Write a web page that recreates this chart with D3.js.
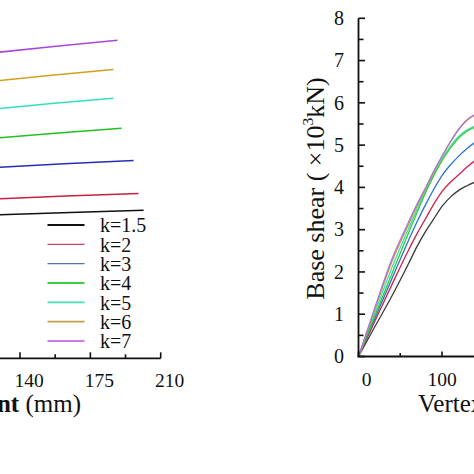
<!DOCTYPE html>
<html><head><meta charset="utf-8">
<script src="https://cdn.jsdelivr.net/npm/d3@7/dist/d3.min.js"></script>
<style>html,body{margin:0;padding:0;background:#fff;}svg{display:block;}text{font-family:"Liberation Serif","Times New Roman",serif;fill:#111;}</style>
</head><body>
<svg id="c" width="474" height="474"></svg>
<script>
// ---------- data ----------
const kLabels = ["k=1.5","k=2","k=3","k=4","k=5","k=6","k=7"];
// left panel (visible part): displacement (mm) and base shear (x10^3 kN)
const leftX = [
  [128, 165, 201.5],
  [128, 163, 199],
  [128, 162, 196.5],
  [128, 159, 190.5],
  [128, 157, 186.5],
  [128, 157, 186.5],
  [128, 158, 188.5]
];
const leftY = [
  [3.39, 3.45, 3.50],
  [3.77, 3.84, 3.90],
  [4.51, 4.60, 4.68],
  [5.21, 5.33, 5.44],
  [5.90, 6.03, 6.15],
  [6.56, 6.70, 6.83],
  [7.23, 7.38, 7.52]
];
const leftTicks = [140, 157.5, 175, 192.5, 210];
const leftTickLabels = [140, 175, 210];
// right panel: vertex displacement (mm) vs base shear (x10^3 kN)
const rightX = [0, 20, 40, 60, 70, 80, 90, 100, 110, 120, 130, 140, 150, 160];
const rightY = [
  [0, 0.72, 1.43, 2.20, 2.60, 2.95, 3.25, 3.55, 3.77, 3.93, 4.04, 4.13, 4.20, 4.25],
  [0, 0.85, 1.70, 2.52, 2.90, 3.25, 3.60, 3.90, 4.12, 4.30, 4.48, 4.64, 4.76, 4.85],
  [0, 0.92, 1.84, 2.75, 3.18, 3.58, 3.95, 4.28, 4.53, 4.74, 4.92, 5.07, 5.20, 5.30],
  [0, 0.98, 1.96, 2.93, 3.40, 3.86, 4.27, 4.63, 4.93, 5.17, 5.33, 5.43, 5.51, 5.57],
  [0, 1.06, 2.10, 3.03, 3.48, 3.91, 4.31, 4.67, 4.97, 5.21, 5.36, 5.45, 5.52, 5.58],
  [0, 1.14, 2.24, 3.13, 3.56, 3.96, 4.36, 4.73, 5.07, 5.37, 5.59, 5.72, 5.81, 5.87],
  [0, 1.18, 2.30, 3.18, 3.60, 3.98, 4.38, 4.74, 5.08, 5.38, 5.60, 5.73, 5.82, 5.88]
];
const rightYTicks = [0, 1, 2, 3, 4, 5, 6, 7, 8];
const rightXTicks = [0, 50, 100, 150];
const rightXTickLabels = [0, 100];

// ---------- styles ----------
const lineColors  = ["#111111", "#c8203f", "#2630b0", "#22c022", "#33dfc0", "#d0a020", "#a848d8"];
const rightColors = ["#3a3a3a", "#d0204a", "#2a72d0", "#33cc33", "#40dcc0", "#c8a020", "#b070e0"];
const legColors   = ["#111111", "#d04060", "#5a6fb0", "#40cc40", "#44e0b8", "#c0a040", "#c050e0"];
const legWidths   = [2.2, 1.1, 1.1, 2.2, 1.6, 1.6, 1.6];

const svg = d3.select("#c");

// ---------- left panel ----------
const lx = d3.scaleLinear().domain([140, 210]).range([20, 160.7]);
const ly = d3.scaleLinear().domain([0, 8]).range([358.3, 20]);
const lg = svg.append("g");
const lineL = d3.line().x(d => lx(d[0])).y(d => ly(d[1]));
kLabels.forEach((k, i) => {
  const pts = leftX[i].map((x, j) => [x, leftY[i][j]]);
  lg.append("path").attr("d", lineL(pts)).attr("fill", "none")
    .attr("stroke", lineColors[i]).attr("stroke-width", 1.5);
});
// x axis
lg.append("line").attr("x1", -5).attr("x2", lx(210)).attr("y1", ly(0)).attr("y2", ly(0))
  .attr("stroke", "#111").attr("stroke-width", 1.8);
leftTicks.forEach(t => {
  const major = leftTickLabels.includes(t);
  lg.append("line").attr("x1", lx(t)).attr("x2", lx(t))
    .attr("y1", ly(0)).attr("y2", ly(0) - (major ? 6 : 4))
    .attr("stroke", "#111").attr("stroke-width", 1.6);
});
leftTickLabels.forEach(t => {
  lg.append("text").attr("x", lx(t) + 9).attr("y", 386.5).attr("text-anchor", "middle")
    .attr("font-size", 19.5).text(t);
});
const lxl = lg.append("text").attr("x", 81).attr("y", 412).attr("text-anchor", "end").attr("font-size", 25);
lxl.append("tspan").attr("font-weight", "bold").text("Vertex displacement");
lxl.append("tspan").text(" (mm)");
// legend
const legY = d3.scaleLinear().domain([0, 6]).range([225, 341]);
kLabels.forEach((k, i) => {
  lg.append("line").attr("x1", 47.5).attr("x2", 84.5).attr("y1", legY(i)).attr("y2", legY(i))
    .attr("stroke", legColors[i]).attr("stroke-width", legWidths[i]);
  lg.append("text").attr("x", 100).attr("y", legY(i) + 7.3).attr("font-size", 20).text(k);
});

// ---------- right panel ----------
const rx = d3.scaleLinear().domain([0, 100]).range([358.5, 442]);
const ry = d3.scaleLinear().domain([0, 8]).range([356.5, 18.3]);
const rg = svg.append("g");
const lineR = d3.line().x(d => rx(d[0])).y(d => ry(d[1])).curve(d3.curveMonotoneX);
const order = [0, 1, 2, 4, 3, 5, 6];
order.forEach(i => {
  const pts = rightX.map((x, j) => [x, rightY[i][j]]);
  rg.append("path").attr("d", lineR(pts)).attr("fill", "none")
    .attr("stroke", rightColors[i]).attr("stroke-width", 1.3);
});
// y axis
rg.append("line").attr("x1", rx(0)).attr("x2", rx(0)).attr("y1", ry(0)).attr("y2", ry(8))
  .attr("stroke", "#111").attr("stroke-width", 1.8);
d3.range(0, 8.01, 0.5).forEach(t => {
  const major = Number.isInteger(t);
  rg.append("line").attr("x1", rx(0)).attr("x2", rx(0) + (major ? 6.5 : 5))
    .attr("y1", ry(t)).attr("y2", ry(t)).attr("stroke", "#111").attr("stroke-width", 1.6);
});
rightYTicks.forEach(t => {
  rg.append("text").attr("x", 344).attr("y", ry(t)).attr("dy", "0.34em")
    .attr("text-anchor", "end").attr("font-size", 20).text(t);
});
// x axis
rg.append("line").attr("x1", rx(0) - 1).attr("x2", 480).attr("y1", ry(0)).attr("y2", ry(0))
  .attr("stroke", "#111").attr("stroke-width", 1.8);
rightXTicks.forEach(t => {
  const major = rightXTickLabels.includes(t);
  rg.append("line").attr("x1", rx(t)).attr("x2", rx(t))
    .attr("y1", ry(0)).attr("y2", ry(0) - (major ? 5 : 3.5))
    .attr("stroke", "#111").attr("stroke-width", 1.6);
});
rightXTickLabels.forEach(t => {
  rg.append("text").attr("x", rx(t) + (t === 0 ? 8 : 0)).attr("y", 385.5)
    .attr("text-anchor", "middle").attr("font-size", 19.5).text(t);
});
rg.append("text").attr("x", 418).attr("y", 412).attr("font-size", 25).text("Vertex displacement (mm)");
// y label
const ylab = rg.append("text").attr("transform", "translate(323.5,188.5) rotate(-90)")
  .attr("text-anchor", "middle").attr("font-size", 26);
ylab.append("tspan").text("Base shear ( \u00d710");
ylab.append("tspan").attr("font-size", 15.5).attr("dy", "-0.7em").text("3");
ylab.append("tspan").attr("dy", "0.42em").text("kN)");
</script>
</body></html>
